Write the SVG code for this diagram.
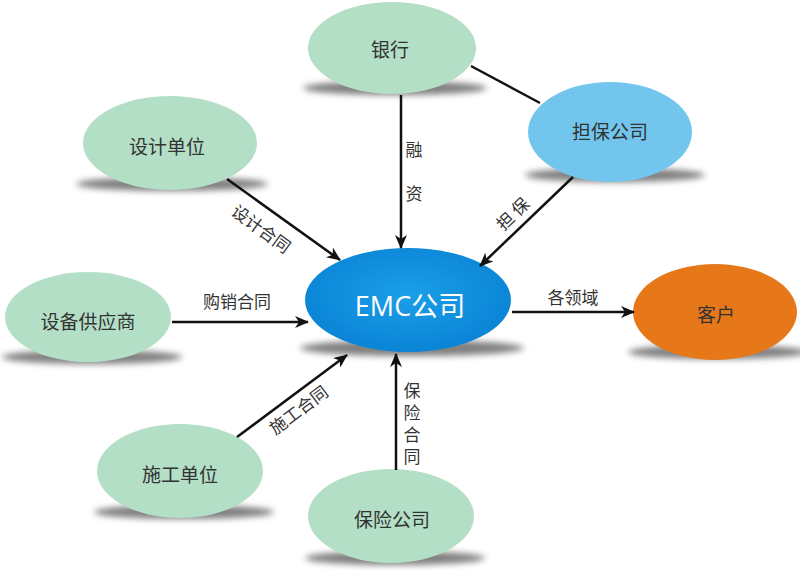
<svg xmlns="http://www.w3.org/2000/svg" width="800" height="570" viewBox="0 0 800 570">
<defs>
<filter id="blur" x="-20%" y="-100%" width="140%" height="300%"><feGaussianBlur stdDeviation="3"/></filter>
<radialGradient id="emcg" cx="50%" cy="45%" r="55%"><stop offset="0" stop-color="#1b9fe8"/><stop offset="1" stop-color="#0a84d6"/></radialGradient>
<marker id="arr" viewBox="0 0 14 12" refX="13" refY="6" markerWidth="14" markerHeight="12" markerUnits="userSpaceOnUse" orient="auto"><path d="M0,0 L14,6 L0,12 L4,6 z" fill="#111"/></marker>
<style>
.sh{fill:#555;opacity:0.75;filter:url(#blur)}
.g{fill:#b3dfc7}
.t{font-family:"Noto Sans CJK SC","Noto Sans",sans-serif;font-size:19px;fill:#333;text-anchor:middle;dominant-baseline:central}
.l{font-family:"Noto Sans CJK SC","Noto Sans",sans-serif;font-size:17px;fill:#333;text-anchor:middle;dominant-baseline:central}
.c{stroke:#111;stroke-width:2.5;fill:none}
</style>
</defs>
<rect width="800" height="570" fill="#fff"/>
<g id="n-bank"><ellipse class="sh" cx="395" cy="88" rx="92" ry="7"/><ellipse class="g" cx="392" cy="48" rx="84" ry="46"/><text class="t" x="390" y="48">银行</text></g>
<g id="n-guarantee"><ellipse class="sh" cx="615" cy="175" rx="90" ry="7"/><ellipse fill="#72c6ee" cx="610" cy="132" rx="82" ry="50"/><text class="t" x="610" y="130">担保公司</text></g>
<g id="n-design"><ellipse class="sh" cx="172" cy="184" rx="96" ry="7"/><ellipse class="g" cx="170" cy="143" rx="87" ry="47"/><text class="t" x="167" y="145">设计单位</text></g>
<g id="n-emc"><ellipse class="sh" cx="412" cy="348" rx="112" ry="8"/><ellipse fill="url(#emcg)" cx="408" cy="300" rx="103" ry="52"/><text x="410" y="305" font-family="'Open Sans','Noto Sans CJK SC',sans-serif" font-size="27" fill="#fff" text-anchor="middle" dominant-baseline="central">EMC公司</text></g>
<g id="n-client"><ellipse class="sh" cx="718" cy="352" rx="90" ry="7"/><ellipse fill="#e77819" cx="715" cy="312" rx="82" ry="48"/><text class="t" x="716" y="313">客户</text></g>
<g id="n-supplier"><ellipse class="sh" cx="92" cy="357" rx="90" ry="7"/><ellipse class="g" cx="88" cy="317" rx="83" ry="45"/><text class="t" x="88" y="320">设备供应商</text></g>
<g id="n-construct"><ellipse class="sh" cx="184" cy="512" rx="90" ry="7"/><ellipse class="g" cx="180" cy="471" rx="83" ry="47"/><text class="t" x="180" y="473">施工单位</text></g>
<g id="n-insure"><ellipse class="sh" cx="395" cy="558" rx="90" ry="7"/><ellipse class="g" cx="391" cy="516" rx="83" ry="47"/><text class="t" x="392" y="518">保险公司</text></g>
<g id="connectors">
<line class="c" x1="401" y1="95" x2="401" y2="248" marker-end="url(#arr)"/>
<line class="c" x1="471" y1="66" x2="540" y2="103"/>
<line class="c" x1="573" y1="177" x2="480" y2="266" marker-end="url(#arr)"/>
<line class="c" x1="227" y1="179" x2="340" y2="260" marker-end="url(#arr)"/>
<line class="c" x1="172" y1="322" x2="308" y2="322" marker-end="url(#arr)"/>
<line class="c" x1="237" y1="437" x2="347" y2="355" marker-end="url(#arr)"/>
<line class="c" x1="396" y1="470" x2="396" y2="354" marker-end="url(#arr)"/>
<line class="c" x1="512" y1="312" x2="634" y2="312" marker-end="url(#arr)"/>
<text class="l" x="414" y="148">融</text>
<text class="l" x="414" y="192">资</text>
<text class="l" transform="translate(512,213) rotate(-44)">担  保</text>
<text class="l" transform="translate(262,228) rotate(36)">设计合同</text>
<text class="l" x="237" y="300">购销合同</text>
<text class="l" transform="translate(298,409) rotate(-37)">施工合同</text>
<text x="412" y="426" font-family="'Noto Sans CJK SC','Noto Sans',sans-serif" font-size="17" fill="#333" text-anchor="middle" writing-mode="vertical-rl" letter-spacing="5">保险合同</text>
<text class="l" x="573" y="296">各领域</text>
</g>
</svg>
